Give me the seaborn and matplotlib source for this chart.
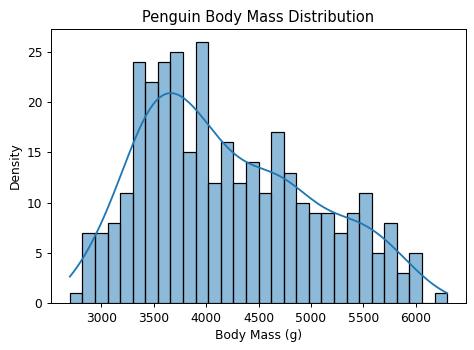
import matplotlib
matplotlib.use("Agg")
import matplotlib.pyplot as plt
import seaborn as sns
import numpy as np
import pandas as pd

bin_edges = [2700 + 120 * i for i in range(31)]
counts = [1, 7, 7, 8, 11, 24, 22, 24, 25, 15, 26, 12, 16, 12, 14,
          11, 17, 13, 10, 9, 9, 7, 9, 11, 5, 8, 3, 5, 0, 1]
bin_centers = [(a + b) / 2 for a, b in zip(bin_edges[:-1], bin_edges[1:])]

mass = np.repeat(bin_centers, counts)
df = pd.DataFrame({"mass": mass})

bw = np.std(mass, ddof=1) * len(mass) ** (-1 / 5)
cut = 60 / bw

DPI = 88
fig, ax = plt.subplots(figsize=(474 / DPI, 350 / DPI), dpi=DPI)
sns.histplot(data=df, x="mass", bins=bin_edges, kde=True,
             edgecolor="black", linewidth=1.0, kde_kws={"cut": cut}, ax=ax)
ax.set_xlim(bin_edges[0] - 180, bin_edges[-1] + 180)
ax.set_title("Penguin Body Mass Distribution")
ax.set_xlabel("Body Mass (g)")
ax.set_ylabel("Density")
fig.subplots_adjust(left=51 / 474, right=466 / 474, top=1 - 29 / 350, bottom=1 - 303 / 350)
fig.savefig("out.png", dpi=DPI)
